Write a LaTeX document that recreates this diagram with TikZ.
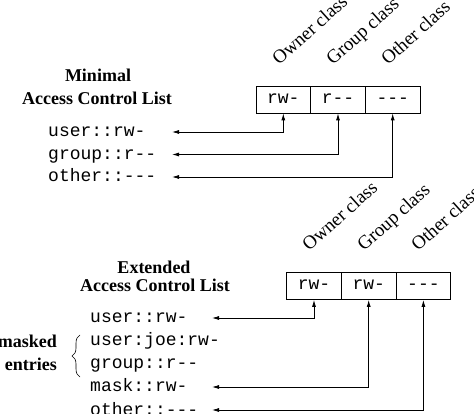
\documentclass[tikz,border=0pt]{standalone}
\usepackage{fontspec}
\setmainfont{Liberation Serif}
\setmonofont{Liberation Mono}
\usetikzlibrary{arrows.meta,decorations.pathreplacing}
\begin{document}
\begin{tikzpicture}[x=1pt,y=-1pt,
  title/.style={font=\fontsize{18}{20}\selectfont\bfseries, anchor=base, inner sep=0},
  entry/.style={font=\fontsize{18}{20}\selectfont\ttfamily, anchor=base west, inner sep=0},
  cell/.style={draw, line width=0.8pt, minimum width=54.7pt, minimum height=27pt, inner sep=0,
    text height=8pt, text depth=0pt, font=\fontsize{18}{20}\selectfont\ttfamily},
  cls/.style={font=\fontsize{19}{20}\selectfont, anchor=base west, rotate=42, inner sep=0},
  side/.style={font=\fontsize{18}{20}\selectfont\bfseries, anchor=base east, inner sep=0},
  conn/.style={line width=0.8pt, {Latex[length=7pt,width=4pt]}-{Latex[length=7pt,width=4pt]}}
]
\useasboundingbox (0,0) rectangle (474,414);

% ---------- Minimal ACL ----------
\node[title] (t1a) at (98,82) {Minimal};
\node[title] (t1b) at (97,105) {Access Control List};

\node[cell] (a1) at (283.3,99.5) {rw-};
\node[cell] (a2) at (338,99.5) {r--};
\node[cell] (a3) at (392.7,99.5) {---};

\node[cls] (la1) at (279,66) {Owner class};
\node[cls] (la2) at (333,66) {Group class};
\node[cls] (la3) at (388,66) {Other class};

\node[entry] (e1) at (48,137) {user::rw-};
\node[entry] (e2) at (48,159.5) {group::r--};
\node[entry] (e3) at (48,182) {other::---};

\coordinate (p1) at (172,132);
\coordinate (p2) at (172,154.5);
\coordinate (p3) at (172,177);

\draw[conn] (p1) -| (a1.south);
\draw[conn] (p2) -| (a2.south);
\draw[conn] (p3) -| (a3.south);

% ---------- Extended ACL ----------
\node[title] (t2a) at (154,273.5) {Extended};
\node[title] (t2b) at (155,291.7) {Access Control List};

\node[cell] (b1) at (314,286) {rw-};
\node[cell] (b2) at (368.7,286) {rw-};
\node[cell] (b3) at (423.4,286) {---};

\node[cls] (lb1) at (309,252) {Owner class};
\node[cls] (lb2) at (364,252) {Group class};
\node[cls] (lb3) at (418,252) {Other class};

\node[entry] (f1) at (90,322) {user::rw-};
\node[entry] (f2) at (90,345) {user:joe:rw-};
\node[entry] (f3) at (90,368.3) {group::r--};
\node[entry] (f4) at (90,391.5) {mask::rw-};
\node[entry] (f5) at (90,415) {other::---};

\coordinate (q1) at (212,318);
\coordinate (q4) at (212,387);
\coordinate (q5) at (212,410);

\draw[conn] (q1) -| (b1.south);
\draw[conn] (q4) -| (b2.south);
\draw[conn] (q5) -| (b3.south);

% masked entries brace
\coordinate (br1) at (80,377);
\coordinate (br2) at (80,335);
\draw[line width=0.6pt, decorate, decoration={brace, amplitude=8pt}] (br1) -- (br2);
\node[side] (m1) at (57,347.5) {masked};
\node[side] (m2) at (57,370.5) {entries};
\end{tikzpicture}
\end{document}
